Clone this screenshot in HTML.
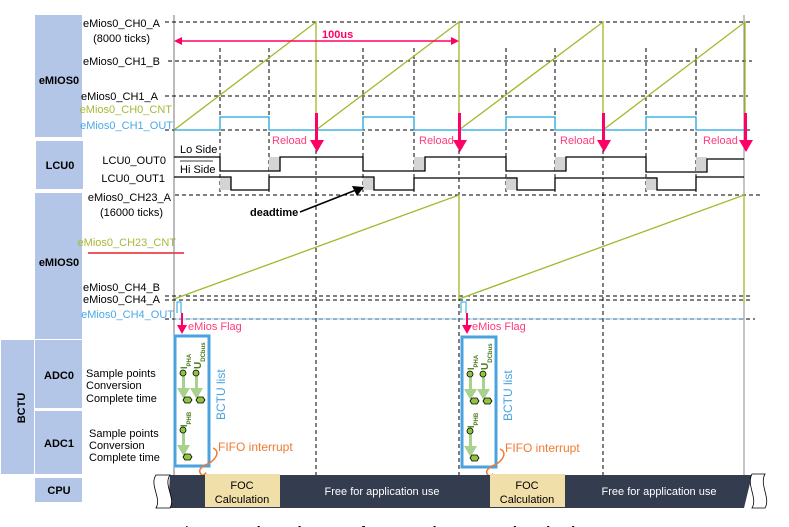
<!DOCTYPE html>
<html><head><meta charset="utf-8"><style>
html,body{margin:0;padding:0;background:#fff;width:789px;height:527px;overflow:hidden}
svg{display:block;font-family:"Liberation Sans",sans-serif}
</style></head><body>
<svg width="789" height="527" viewBox="0 0 789 527" xmlns="http://www.w3.org/2000/svg">
<!-- left panels -->
<g fill="#b4c6e7">
<rect x="35" y="15" width="47" height="122"/>
<rect x="36" y="141" width="47" height="48"/>
<rect x="35" y="193" width="47" height="146"/>
<rect x="1" y="340" width="33" height="134"/>
<rect x="35" y="340" width="47" height="68"/>
<rect x="35" y="411" width="47" height="63"/>
<rect x="35" y="478" width="47" height="24"/>
</g>
<g font-weight="bold" font-size="11" text-anchor="middle" fill="#000">
<text x="59" y="84">eMIOS0</text>
<text x="60" y="169">LCU0</text>
<text x="59" y="266">eMIOS0</text>
<text x="59" y="379">ADC0</text>
<text x="59" y="447">ADC1</text>
<text x="59" y="494">CPU</text>
<text transform="translate(25,408) rotate(-90)" x="0" y="0">BCTU</text>
</g>
<!-- labels -->
<g font-size="11" fill="#000" text-anchor="end">
<text x="160" y="27">eMios0_CH0_A</text>
<text x="150" y="42">(8000 ticks)</text>
<text x="160" y="65">eMios0_CH1_B</text>
<text x="158" y="100">eMios0_CH1_A</text>
<text x="172" y="113" fill="#a8b838">eMios0_CH0_CNT</text>
<text x="173" y="129" fill="#4aa8e8">eMios0_CH1_OUT</text>
<text x="166" y="164">LCU0_OUT0</text>
<text x="165" y="182">LCU0_OUT1</text>
<text x="171" y="201">eMios0_CH23_A</text>
<text x="163" y="216">(16000 ticks)</text>
<text x="176" y="246" fill="#a8b838">eMios0_CH23_CNT</text>
<text x="160" y="291">eMios0_CH4_B</text>
<text x="160" y="303">eMios0_CH4_A</text>
<text x="174" y="318" fill="#4aa8e8">eMios0_CH4_OUT</text>
</g>
<line x1="88" y1="253" x2="184" y2="253" stroke="#e8202a" stroke-width="1.5"/>
<g font-size="11" fill="#000">
<text x="180" y="153">Lo Side</text>
<line x1="180" y1="161" x2="213" y2="161" stroke="#000" stroke-width="0.7"/>
<text x="180" y="173">Hi Side</text>
<text x="86" y="377">Sample points</text>
<text x="86" y="389">Conversion</text>
<text x="86" y="402">Complete time</text>
<text x="89" y="437">Sample points</text>
<text x="89" y="449">Conversion</text>
<text x="89" y="461">Complete time</text>
</g>
<!-- axis -->
<line x1="174" y1="15" x2="174" y2="476" stroke="#777" stroke-width="1"/>
<line x1="744" y1="15" x2="744" y2="476" stroke="#888" stroke-width="1"/>
<!-- dashed horizontals -->
<g stroke="#000" stroke-width="1" stroke-dasharray="4,3" fill="none">
<line x1="165" y1="22" x2="752" y2="22"/>
<line x1="168" y1="61" x2="752" y2="61"/>
<line x1="165" y1="96" x2="748" y2="96"/>
<line x1="165" y1="130" x2="752" y2="130"/>
<line x1="175" y1="195" x2="763" y2="195"/>
<line x1="165" y1="296" x2="751" y2="296"/>
<line x1="165" y1="300" x2="751" y2="300"/>
<line x1="165" y1="319" x2="755" y2="319"/>
<!-- verticals -->
<line x1="220" y1="48" x2="220" y2="195"/>
<line x1="269" y1="48" x2="269" y2="195"/>
<line x1="363" y1="48" x2="363" y2="195"/>
<line x1="414" y1="48" x2="414" y2="195"/>
<line x1="506" y1="48" x2="506" y2="195"/>
<line x1="555" y1="48" x2="555" y2="195"/>
<line x1="646" y1="48" x2="646" y2="195"/>
<line x1="696" y1="48" x2="696" y2="195"/>
<line x1="316" y1="150" x2="316" y2="476"/>
<line x1="459" y1="150" x2="459" y2="476"/>
<line x1="603" y1="150" x2="603" y2="476"/>
</g>
<line x1="174" y1="319" x2="744" y2="319" stroke="#4aa8e8" stroke-width="1" opacity="0.6"/>
<!-- CH0 sawtooth -->
<g stroke="#9bbb2a" stroke-width="1.3" fill="none">
<polyline points="174,130 316,22 316,113"/>
<polyline points="316,130 459,22 459,113"/>
<polyline points="459,130 603,22 603,113"/>
<polyline points="603,130 745,22 745,113"/>
<polyline points="174,299 459,195 459,299"/>
<polyline points="459,299 744,195 744,303"/>
</g>
<!-- CH1_OUT -->
<polyline points="174,130 220,130 220,117 269,117 269,130 363,130 363,117 414,117 414,130 506,130 506,117 555,117 555,130 646,130 646,117 696,117 696,130 744,130" fill="none" stroke="#1fa5e0" stroke-width="1.3"/>
<!-- 100us -->
<g stroke="#ff0066" fill="#ff0066">
<line x1="180" y1="41" x2="453" y2="41" stroke-width="1.5"/>
<polygon points="174,41 182,37 182,45" stroke="none"/>
<polygon points="459,41 451,37 451,45" stroke="none"/>
</g>
<text x="322" y="38" font-size="11" font-weight="bold" fill="#ff0066">100us</text>
<!-- reload arrows -->
<g fill="#ff0066">
<rect x="315" y="113" width="3" height="30"/><polygon points="310,140 324,140 317,152"/>
<rect x="458" y="113" width="3" height="30"/><polygon points="453,140 467,140 460,152"/>
<rect x="602" y="113" width="3" height="30"/><polygon points="597,140 611,140 604,152"/>
<rect x="744" y="113" width="3" height="30"/><polygon points="739,140 753,140 746,152"/>
</g>
<g font-size="11" fill="#ff3c78">
<text x="272" y="144">Reload</text>
<text x="419" y="144">Reload</text>
<text x="560" y="144">Reload</text>
<text x="703" y="144">Reload</text>
</g>
<!-- LCU gray deadtime -->
<g fill="#d4d4d4">
<rect x="269" y="157" width="11" height="14"/>
<rect x="414" y="157" width="11" height="14"/>
<rect x="555" y="157" width="11" height="14"/>
<rect x="696" y="157" width="11" height="14"/>
<rect x="220" y="177" width="11" height="13"/>
<rect x="363" y="177" width="11" height="13"/>
<rect x="506" y="177" width="11" height="13"/>
<rect x="646" y="177" width="11" height="13"/>
</g>
<polyline points="174,157 220,157 220,171 280,171 280,157 363,157 363,171 425,171 425,157 506,157 506,171 566,171 566,157 646,157 646,172 707,172 707,159 744,159" fill="none" stroke="#000" stroke-width="1.3"/>
<polyline points="174,177 231,177 231,190 269,190 269,177 374,177 374,190 414,190 414,178 517,178 517,190 555,190 555,178 657,178 657,190 696,190 696,177 744,177" fill="none" stroke="#000" stroke-width="1.3"/>
<!-- deadtime -->
<text x="250" y="216" font-size="11" font-weight="bold">deadtime</text>
<line x1="300" y1="212" x2="356" y2="190" stroke="#000" stroke-width="1.5"/>
<polygon points="364,187 352,186 357,196" fill="#000"/>
<!-- CH4 out pulses -->
<polyline points="177,313 177,302 181,302 181,313" fill="none" stroke="#1fa5e0" stroke-width="1"/>
<polyline points="461,313 461,302 466,302 466,313" fill="none" stroke="#1fa5e0" stroke-width="1"/>
<g fill="#ff0066">
<rect x="181" y="313" width="2" height="14"/><polygon points="177,325 187,325 182,334"/>
<rect x="466" y="313" width="2" height="14"/><polygon points="462,325 472,325 467,334"/>
</g>
<text x="188" y="330" font-size="11" fill="#ff3c78">eMios Flag</text>
<text x="472" y="330" font-size="11" fill="#ff3c78">eMios Flag</text>
<!-- BCTU list groups -->
<g id="bl">
<rect x="175" y="336" width="34" height="130" fill="#fff" stroke="#4aa3df" stroke-width="3"/>
<g fill="#a9d18e">
<rect x="182" y="376" width="3" height="14"/><polygon points="177,388 190,388 183.5,399"/>
<rect x="195" y="376" width="3" height="14"/><polygon points="190,388 203,388 196.5,399"/>
<rect x="182" y="433" width="3" height="14"/><polygon points="177,445 190,445 183.5,456"/>
</g>
<g fill="#8cc63f" stroke="#000" stroke-width="0.8">
<circle cx="183" cy="373" r="3"/><circle cx="196" cy="373" r="3"/><circle cx="183" cy="430" r="3"/>
</g>
<g fill="#8cc63f" stroke="#000" stroke-width="0.8">
<polygon points="185,397 190,397 192,400 190,403 185,403 183,400"/>
<polygon points="198,397 203,397 205,400 203,403 198,403 196,400"/>
<polygon points="185,454 190,454 192,457 190,460 185,460 183,457"/>
</g>
<g fill="#4a7a1a" font-weight="bold">
<text transform="translate(187,369) rotate(-90)" font-size="9">I<tspan font-size="6" dy="4">PHA</tspan></text>
<text transform="translate(201,369) rotate(-90)" font-size="10">U<tspan font-size="6" dy="4">DCbus</tspan></text>
<text transform="translate(187,427) rotate(-90)" font-size="9">I<tspan font-size="6" dy="4">PHB</tspan></text>
</g>
<text transform="translate(225,420) rotate(-90)" font-size="12" fill="#4aa3df">BCTU list</text>
<text x="218" y="451" font-size="12" fill="#f07a30">FIFO interrupt</text>
<path d="M213,448 C 222,452 214,462 205,465 C 196,470 200,475 206,477" fill="none" stroke="#f07a30" stroke-width="1.5"/>
<polygon points="208,479 201,476 206,472" fill="#f07a30"/>
</g>
<use href="#bl" transform="translate(287,1)"/>
<!-- CPU bar -->
<path d="M170,475 L752,475 L744,508 L168,508 Z" fill="#333d4f"/>
<path d="M156,475 L170,475 C 163,485 176,498 170,508 L156,508 C 162,498 149,485 156,475 Z" fill="#fff" stroke="#000" stroke-width="0.8"/>
<path d="M752,474 L765,474 C 759,485 771,498 765,508 L752,508 C 758,498 746,485 752,474 Z" fill="#fff" stroke="#000" stroke-width="0.8"/>
<rect x="205" y="474" width="75" height="33" fill="#f0dfa8"/>
<rect x="490" y="474" width="75" height="33" fill="#f0dfa8"/>
<g font-size="11" text-anchor="middle">
<text x="242" y="489">FOC</text><text x="242" y="503">Calculation</text>
<text x="527" y="489">FOC</text><text x="527" y="503">Calculation</text>
<text x="382" y="495" fill="#fff">Free for application use</text>
<text x="659" y="495" fill="#fff">Free for application use</text>
</g>
<text x="176" y="537" font-size="15">Figure 18. <tspan font-weight="bold">Time Diagram of PWM and ADC Synchronization</tspan></text>
</svg>
</body></html>
